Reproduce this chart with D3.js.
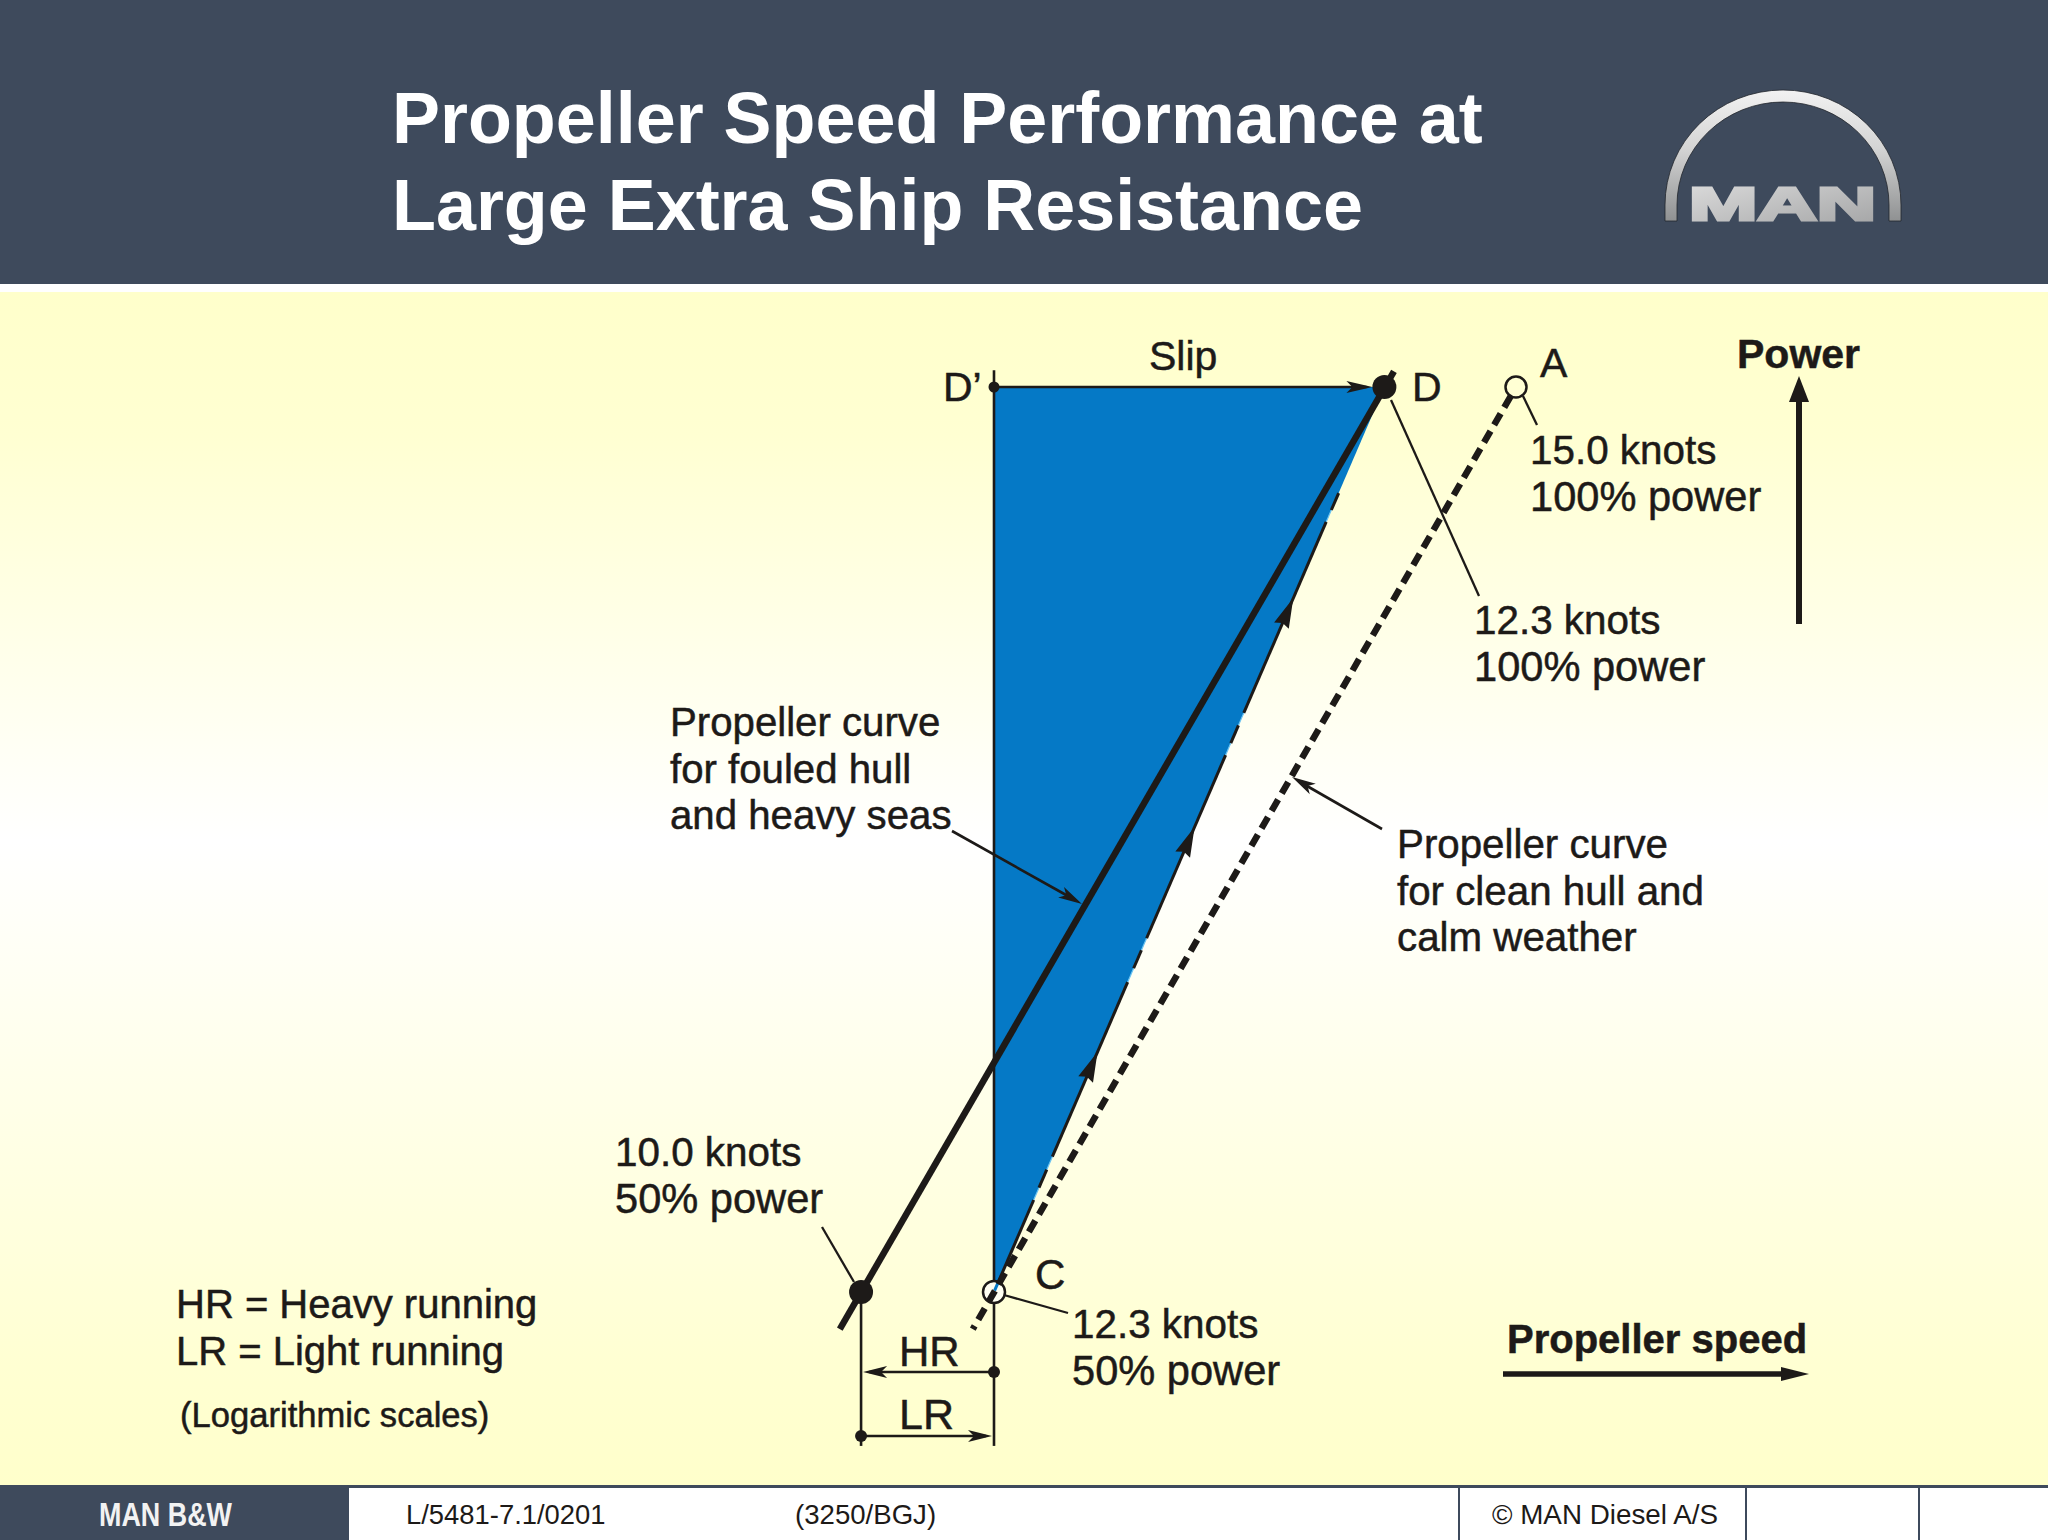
<!DOCTYPE html>
<html>
<head>
<meta charset="utf-8">
<title>Propeller Speed Performance</title>
<script src="https://cdn.jsdelivr.net/npm/d3@7"></script>
<style>
body{margin:0;background:#fff}
svg{display:block}
text{font-family:"Liberation Sans",Arial,sans-serif;fill:#1d1a18}
</style>
</head>
<body>
<svg id="chart"></svg>
<script>
// propeller speed in % of point A, engine power in %
var titleLines = ["Propeller Speed Performance at", "Large Extra Ship Resistance"]
var pointNames = ["A", "D", "C", "E"]
var pointSpeed = [100, 94.35, 79.4, 74.87]
var pointPower = [100, 100, 50, 50]

var cleanSpeed = [100, 78.66]
var cleanPower = [100, 48.6]
var fouledSpeed = [94.75, 74.17]
var fouledPower = [101.2, 48.6]

// inked pieces of the C-D run, as power from/to
var runFrom = [50.45, 54.16, 55.46, 64.07, 65.56, 76.13, 77.91, 91.01]
var runTo = [53.65, 54.91, 63.39, 64.96, 75.43, 77.17, 90.18, 92.2]
var runArrows = [60.09, 71.39, 85.07]

var slipTopPower = 101.3
var hrPower = 47.03
var lrPower = 44.78
var dropEndPower = 44.44

var screen = {width:2048, height:1540}
var svg = d3.select("#chart")
    .attr("width", screen.width)
    .attr("height", screen.height)

var xScale = d3.scaleLog()
    .domain([79.4, 100])
    .range([994, 1516])
var yScale = d3.scaleLog()
    .domain([50, 100])
    .range([1292, 387])
// x along the C-D run for a given power
var runX = d3.scaleLog()
    .domain([50, 100])
    .range([xScale(pointSpeed[2]), xScale(pointSpeed[1])])

var ink = "#1d1a18"
var slate = "#3e4a5c"
var blue = "#0579c6"

var defs = svg.append("defs")
var bg = defs.append("linearGradient")
    .attr("id", "paper")
    .attr("x1", 0).attr("y1", 0).attr("x2", 0).attr("y2", 1)
bg.append("stop").attr("offset", "0").attr("stop-color", "#ffffcb")
bg.append("stop").attr("offset", "0.12").attr("stop-color", "#ffffd2")
bg.append("stop").attr("offset", "0.46").attr("stop-color", "#ffffff")
bg.append("stop").attr("offset", "0.9").attr("stop-color", "#ffffd2")
bg.append("stop").attr("offset", "1").attr("stop-color", "#ffffcb")

var chrome = defs.append("linearGradient")
    .attr("id", "chrome")
    .attr("x1", 0).attr("y1", 0).attr("x2", 0).attr("y2", 1)
chrome.append("stop").attr("offset", "0").attr("stop-color", "#f2f2f2")
chrome.append("stop").attr("offset", "0.45").attr("stop-color", "#d4d4d4")
chrome.append("stop").attr("offset", "1").attr("stop-color", "#8f9192")

var letters = defs.append("linearGradient")
    .attr("id", "letters")
    .attr("x1", 0).attr("y1", 0).attr("x2", 1).attr("y2", 1)
letters.append("stop").attr("offset", "0").attr("stop-color", "#dedede")
letters.append("stop").attr("offset", "1").attr("stop-color", "#a2a3a4")

var createFrame = function()
{
    svg.append("rect")
        .attr("x", 0).attr("y", 0)
        .attr("width", screen.width).attr("height", 284)
        .attr("fill", slate)
    svg.append("rect")
        .attr("x", 0).attr("y", 292)
        .attr("width", screen.width).attr("height", 1194)
        .attr("fill", "url(#paper)")

    svg.selectAll(".title")
        .data(titleLines)
        .enter()
        .append("text")
        .classed("title", true)
        .text(function(d){return d})
        .attr("x", 392)
        .attr("y", function(d, i){return 143 + i*87})
        .attr("font-size", 71.9)
        .attr("font-weight", "bold")
        .style("fill", "#fff")

    // logo
    svg.append("path")
        .attr("d", "M1665,221 L1665,205 A118,115 0 0 1 1901,205 L1901,221 L1889,221 L1889,205 A106,103 0 0 0 1677,205 L1677,221 Z")
        .attr("fill", "url(#chrome)")
        .attr("stroke", "#22262c")
        .attr("stroke-width", 0.8)
    svg.append("text")
        .text("MAN")
        .attr("x", 1689)
        .attr("y", 219.5)
        .attr("font-size", 47)
        .attr("font-weight", "bold")
        .attr("textLength", 187)
        .attr("lengthAdjust", "spacingAndGlyphs")
        .style("fill", "url(#letters)")
        .style("stroke", "url(#letters)")
        .style("stroke-width", 3)

    // footer
    svg.append("rect")
        .attr("x", 0).attr("y", 1485)
        .attr("width", screen.width).attr("height", 3)
        .attr("fill", slate)
    svg.append("rect")
        .attr("x", 0).attr("y", 1486)
        .attr("width", 349).attr("height", 54)
        .attr("fill", slate)
    svg.selectAll(".sep")
        .data([1459, 1746, 1919])
        .enter()
        .append("line")
        .classed("sep", true)
        .attr("x1", function(d){return d})
        .attr("x2", function(d){return d})
        .attr("y1", 1486)
        .attr("y2", 1540)
        .attr("stroke", slate)
        .attr("stroke-width", 2)
    svg.append("text")
        .text("MAN B&W")
        .attr("x", 99)
        .attr("y", 1526)
        .attr("font-size", 33)
        .attr("font-weight", "bold")
        .attr("textLength", 133)
        .attr("lengthAdjust", "spacingAndGlyphs")
        .style("fill", "#f2f2f2")
    svg.append("text").text("L/5481-7.1/0201").attr("x", 406).attr("y", 1524).attr("font-size", 27.4)
    svg.append("text").text("(3250/BGJ)").attr("x", 795).attr("y", 1524).attr("font-size", 27.6)
    svg.append("text").text("\u00a9 MAN Diesel A/S").attr("x", 1492).attr("y", 1524).attr("font-size", 27.8)
}

var arrowHead = function(g, tip, from, len, hw, notch)
{
    var a = Math.atan2(tip[1]-from[1], tip[0]-from[0])*180/Math.PI
    g.append("path")
        .attr("d", "M0,0 L"+(-len)+","+(-hw)+" L"+(-len+notch)+",0 L"+(-len)+","+hw+" Z")
        .attr("transform", "translate("+tip[0]+","+tip[1]+") rotate("+a+")")
        .attr("fill", ink)
}

var straight = function(g, a, b, w)
{
    g.append("line")
        .attr("x1", a[0]).attr("y1", a[1])
        .attr("x2", b[0]).attr("y2", b[1])
        .attr("stroke", ink)
        .attr("stroke-width", w)
}

var createDiagram = function()
{
    var g = svg.append("g").classed("diagram", true)
    var A = [xScale(pointSpeed[0]), yScale(pointPower[0])]
    var D = [xScale(pointSpeed[1]), yScale(pointPower[1])]
    var C = [xScale(pointSpeed[2]), yScale(pointPower[2])]
    var E = [xScale(pointSpeed[3]), yScale(pointPower[3])]
    var lineGenerator = d3.line()

    g.append("path")
        .attr("d", lineGenerator([[C[0], D[1]], D, C]) + "Z")
        .attr("fill", blue)

    // point C is white with only a sliver of the blue left in it
    g.append("circle")
        .attr("cx", C[0]).attr("cy", C[1]).attr("r", 11)
        .attr("fill", "#fffff2")
    g.append("line")
        .attr("x1", runX(50.05)).attr("y1", yScale(50.05))
        .attr("x2", runX(50.4)).attr("y2", yScale(50.4))
        .attr("stroke", blue)
        .attr("stroke-width", 3)

    // light ticks where the C-D run breaks
    var gapFrom = runTo.slice(0, runTo.length-1)
    var gapTo = runFrom.slice(1)
    g.selectAll(".gap")
        .data(gapFrom)
        .enter()
        .append("line")
        .classed("gap", true)
        .attr("x1", function(d){return runX(d)})
        .attr("y1", function(d){return yScale(d)})
        .attr("x2", function(d, i){return runX(gapTo[i])})
        .attr("y2", function(d, i){return yScale(gapTo[i])})
        .attr("stroke", "#6cc4f2")
        .attr("stroke-width", 1.2)

    g.selectAll(".run")
        .data(runFrom)
        .enter()
        .append("line")
        .classed("run", true)
        .attr("x1", function(d){return runX(d)})
        .attr("y1", function(d){return yScale(d)})
        .attr("x2", function(d, i){return runX(runTo[i])})
        .attr("y2", function(d, i){return yScale(runTo[i])})
        .attr("stroke", ink)
        .attr("stroke-width", 3)

    runArrows.forEach(function(p)
    {
        arrowHead(g, [runX(p), yScale(p)], C, 30, 8, 3)
    })

    // clean hull curve
    g.append("path")
        .datum(cleanSpeed.map(function(s, i){return [xScale(s), yScale(cleanPower[i])]}))
        .attr("d", lineGenerator)
        .attr("fill", "none")
        .attr("stroke", ink)
        .attr("stroke-width", 6.5)
        .attr("stroke-dasharray", "13 7.25")
        .attr("stroke-dashoffset", -10.5)

    // verticals and dimension lines
    var top = yScale(slipTopPower)
    var hr = yScale(hrPower)
    var lr = yScale(lrPower)
    var end = yScale(dropEndPower)
    straight(g, [C[0], top], [C[0], C[1]-11], 2.6)
    straight(g, [C[0], C[1]+11], [C[0], end], 2.6)
    straight(g, E, [E[0], end], 2.6)

    straight(g, [C[0], D[1]], [D[0]-18, D[1]], 2.6)
    arrowHead(g, [D[0]-12, D[1]], [C[0], D[1]], 26, 6, 6)
    straight(g, [C[0], hr], [E[0]+8, hr], 2.4)
    arrowHead(g, [E[0]+2, hr], [C[0], hr], 24, 6, 6)
    straight(g, [E[0], lr], [C[0]-8, lr], 2.4)
    arrowHead(g, [C[0]-2, lr], [E[0], lr], 24, 6, 6)

    // fouled hull curve
    g.append("path")
        .datum(fouledSpeed.map(function(s, i){return [xScale(s), yScale(fouledPower[i])]}))
        .attr("d", lineGenerator)
        .attr("fill", "none")
        .attr("stroke", ink)
        .attr("stroke-width", 6.5)

    // leaders
    straight(g, [1523, 396], [1537, 425], 2.3)
    straight(g, [1391, 400], [1479, 596], 2.3)
    straight(g, [822, 1227], [854, 1282], 2.3)
    straight(g, [1004, 1295], [1068, 1313], 2.3)
    straight(g, [952, 831], [1075, 900], 2.6)
    arrowHead(g, [1082, 904], [952, 831], 24, 6, 6)
    straight(g, [1382, 829], [1300, 782], 2.6)
    arrowHead(g, [1292, 777], [1382, 829], 24, 6, 6)

    // points
    g.append("circle").attr("cx", E[0]).attr("cy", E[1]).attr("r", 12).attr("fill", ink)
    g.append("circle").attr("cx", D[0]).attr("cy", D[1]).attr("r", 12).attr("fill", ink)
    g.append("circle").attr("cx", A[0]).attr("cy", A[1]).attr("r", 10.5)
        .attr("fill", "#ffffd4").attr("stroke", ink).attr("stroke-width", 2.5)
    g.append("circle").attr("cx", C[0]).attr("cy", C[1]).attr("r", 11)
        .attr("fill", "none").attr("stroke", ink).attr("stroke-width", 2.5)
    g.append("circle").attr("cx", C[0]).attr("cy", D[1]).attr("r", 5.5).attr("fill", ink)
    g.append("circle").attr("cx", C[0]).attr("cy", hr).attr("r", 6).attr("fill", ink)
    g.append("circle").attr("cx", E[0]).attr("cy", lr).attr("r", 6).attr("fill", ink)

    // axis arrows
    straight(g, [1799, 624], [1799, 395], 6)
    arrowHead(g, [1799, 376], [1799, 624], 26, 10, 0)
    straight(g, [1503, 1374], [1790, 1374], 5.5)
    arrowHead(g, [1809, 1374], [1503, 1374], 28, 7, 0)
}

var createLabels = function()
{
    var labels = svg.append("g").classed("labels", true)
    var block = function(lines, x, y, size, weight)
    {
        lines.forEach(function(t, i)
        {
            labels.append("text")
                .text(t)
                .attr("x", x)
                .attr("y", y + i*46.5)
                .attr("font-size", t.indexOf("power") >= 0 ? size*1.03 : size)
                .attr("font-weight", weight || "normal")
                .style("stroke", "#1d1a18")
                .style("stroke-width", 0.5)
        })
    }
    block(["D\u2019"], 943, 401, 41)
    block(["D"], 1412, 401, 41)
    block(["A"], 1540, 377, 41)
    block(["C"], 1035, 1289, 42)
    block(["Slip"], 1149, 370, 41)
    block(["HR"], 899, 1366, 42)
    block(["LR"], 899, 1429, 43)
    block(["15.0 knots", "100% power"], 1530, 464, 40.4)
    block(["12.3 knots", "100% power"], 1474, 634, 40.4)
    block(["10.0 knots", "50% power"], 615, 1166, 40.4)
    block(["12.3 knots", "50% power"], 1072, 1338, 40.4)
    block(["Propeller curve", "for fouled hull", "and heavy seas"], 670, 736, 40.2)
    block(["Propeller curve", "for clean hull and", "calm weather"], 1397, 858, 40.3)
    block(["HR = Heavy running", "LR = Light running"], 176, 1318, 40)
    block(["(Logarithmic scales)"], 180, 1427, 34.6)
    block(["Power"], 1737, 368, 41, "bold")
    block(["Propeller speed"], 1507, 1353, 40, "bold")
}

createFrame()
createDiagram()
createLabels()
</script>
</body>
</html>
